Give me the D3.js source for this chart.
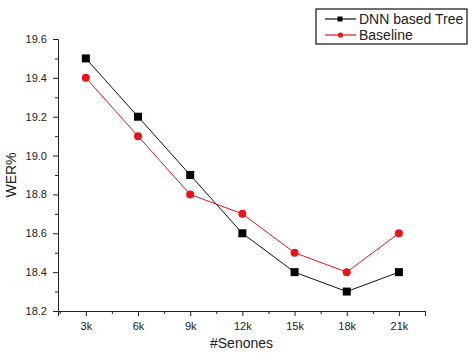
<!DOCTYPE html>
<html>
<head>
<meta charset="utf-8">
<script src="https://cdn.jsdelivr.net/npm/d3@7"></script>
<style>
  body { margin: 0; background: #fff; }
  text { font-family: "Liberation Sans", Arial, sans-serif; fill: #222; }
</style>
</head>
<body>
<div id="chart"></div>
<script>
// senones in thousands
const senones = [3, 6, 9, 12, 15, 18, 21]
const dnnTree = [19.5, 19.2, 18.9, 18.6, 18.4, 18.3, 18.4]
const baseline = [19.4, 19.1, 18.8, 18.7, 18.5, 18.4, 18.6]
const yTicks = [18.2, 18.4, 18.6, 18.8, 19.0, 19.2, 19.4, 19.6]

const width = 474, height = 353
const margin = { top: 39, right: 49, bottom: 42, left: 58 }

const svg = d3.select("#chart").append("svg")
    .attr("width", width)
    .attr("height", height)

const x = d3.scaleLinear()
    .domain([1.4, 22.5])
    .range([margin.left, width - margin.right])

const y = d3.scaleLinear()
    .domain([18.2, 19.6])
    .range([height - margin.bottom, margin.top])

// minor ticks first, then major axes
svg.append("g")
    .attr("transform", `translate(${margin.left},0)`)
    .call(d3.axisLeft(y).tickValues(d3.range(18.3, 19.6, 0.2)).tickSize(3).tickFormat(""))
    .call(g => g.select(".domain").remove())

svg.append("g")
    .attr("transform", `translate(0,${height - margin.bottom})`)
    .call(d3.axisBottom(x).tickValues(d3.range(1.5, 22.6, 3)).tickSize(3).tickFormat(""))
    .call(g => g.select(".domain").remove())

svg.append("g")
    .attr("transform", `translate(${margin.left},0)`)
    .call(d3.axisLeft(y).tickValues(yTicks).tickSize(5).tickPadding(6).tickFormat(d3.format(".1f")))
    .call(g => g.selectAll("text").attr("font-size", 11))

svg.append("g")
    .attr("transform", `translate(0,${height - margin.bottom})`)
    .call(d3.axisBottom(x).tickValues(senones).tickSize(5).tickPadding(6).tickFormat(d => d + "k"))
    .call(g => g.selectAll("text").attr("font-size", 11))

svg.selectAll(".domain, .tick line").attr("stroke", "#222")

const line = d3.line()
    .x((d, i) => x(senones[i]))
    .y(d => y(d))

svg.append("path")
    .datum(dnnTree)
    .attr("fill", "none")
    .attr("stroke", "#111")
    .attr("stroke-width", 1)
    .attr("d", line)

svg.append("path")
    .datum(baseline)
    .attr("fill", "none")
    .attr("stroke", "#e8141b")
    .attr("stroke-width", 1)
    .attr("d", line)

svg.append("g")
    .selectAll("rect")
    .data(dnnTree)
    .join("rect")
    .attr("x", (d, i) => x(senones[i]) - 4)
    .attr("y", d => y(d) - 4)
    .attr("width", 8)
    .attr("height", 8)
    .attr("fill", "#000")

svg.append("g")
    .selectAll("circle")
    .data(baseline)
    .join("circle")
    .attr("cx", (d, i) => x(senones[i]))
    .attr("cy", d => y(d))
    .attr("r", 4)
    .attr("fill", "#e8141b")

// axis titles
svg.append("text")
    .attr("transform", `translate(16,${(margin.top + height - margin.bottom) / 2}) rotate(-90)`)
    .attr("text-anchor", "middle")
    .attr("font-size", 14)
    .text("WER%")

svg.append("text")
    .attr("x", (margin.left + width - margin.right) / 2)
    .attr("y", 348)
    .attr("text-anchor", "middle")
    .attr("font-size", 14)
    .text("#Senones")

// legend
const legend = svg.append("g").attr("transform", "translate(316,9)")
legend.append("rect")
    .attr("width", 151)
    .attr("height", 35)
    .attr("fill", "#fff")
    .attr("stroke", "#111")
    .attr("stroke-width", 1.2)

const items = [
    { name: "DNN based Tree", color: "#111", shape: "square" },
    { name: "Baseline", color: "#e8141b", shape: "circle" }
]
items.forEach((d, i) => {
    const g = legend.append("g").attr("transform", `translate(0,${10 + i * 16})`)
    g.append("line").attr("x1", 9).attr("x2", 40).attr("stroke", d.color).attr("stroke-width", 1.2)
    if (d.shape === "square")
        g.append("rect").attr("x", 21.5).attr("y", -2.5).attr("width", 5).attr("height", 5).attr("fill", "#000")
    else
        g.append("circle").attr("cx", 24.5).attr("r", 2.6).attr("fill", d.color)
    g.append("text").attr("x", 43).attr("dy", "0.35em").attr("font-size", 14).text(d.name)
})
</script>
</body>
</html>
